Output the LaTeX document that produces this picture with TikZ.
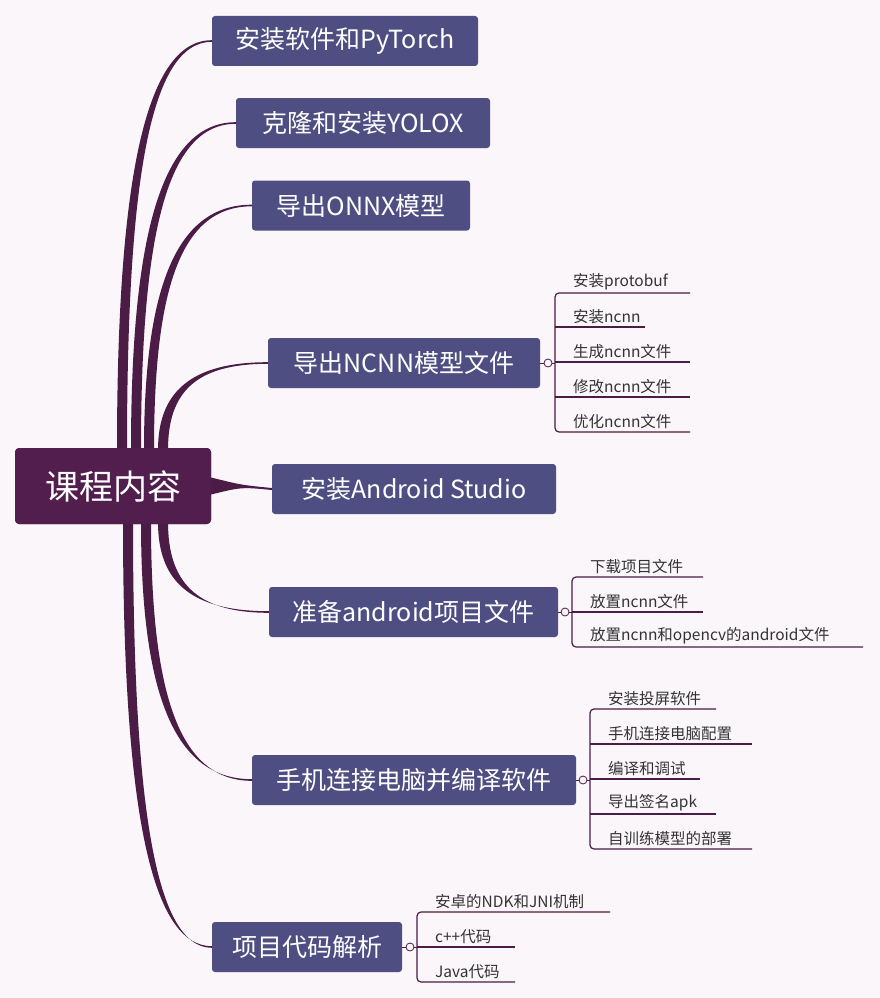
\documentclass[tikz,border=0pt]{standalone}
\usepackage{fontspec}
\setmainfont{Noto Sans CJK SC}
\usetikzlibrary{calc}
\definecolor{bg}{HTML}{FBF6FA}
\definecolor{rootc}{HTML}{521E4E}
\definecolor{boxc}{HTML}{4F4E82}
\definecolor{linec}{HTML}{4A1C46}
\definecolor{txt}{HTML}{333333}
\tikzset{
 rootbox/.style={fill=rootc,rounded corners=4pt,text=white,font=\fontsize{34}{40}\selectfont,minimum width=196pt,minimum height=76pt,inner sep=0pt},
 topic/.style={fill=boxc,rounded corners=3pt,text=white,font=\fontsize{25}{30}\selectfont,minimum height=50pt,inner sep=0pt},
 sub/.style={text=txt,font=\fontsize{15.5}{18}\selectfont,anchor=south west,inner sep=0pt},
 subline/.style={draw=linec,line width=1.2pt,rounded corners=4pt},
 brc/.style={fill=linec},
 knob/.style={circle,draw=linec,fill=bg,line width=0.8pt,inner sep=0pt,minimum size=8pt}
}
\newcommand\tbranch[3]{% start coordinate, box, half width
 \fill[brc] let \p1=(#1), \p2=(#2.west) in
  ({\x1-#3pt},\y1) .. controls ({\x1-#3pt},{\y1+0.65*(\y2-\y1)}) and ({\x1+0.25*(\x2-\x1)},{\y2+0.8pt}) .. ({\x2},{\y2+0.8pt})
  -- ({\x2},{\y2-0.8pt}) .. controls ({\x1+0.25*(\x2-\x1)+#3pt},{\y2-0.8pt}) and ({\x1+#3pt},{\y1+0.65*(\y2-\y1)}) .. ({\x1+#3pt},\y1) -- cycle;}
\begin{document}
\begin{tikzpicture}[x=1pt,y=-1pt]
\fill[bg] (0,0) rectangle (880,998);
\useasboundingbox (0,0) rectangle (880,998);
% root and topics
\node[rootbox] (root) at (113,486) {课程内容};
\node[topic,minimum width=266pt] (b1) at (345,41) {安装软件和PyTorch};
\node[topic,minimum width=254pt] (b2) at (363,123) {克隆和安装YOLOX};
\node[topic,minimum width=218pt] (b3) at (361,205.5) {导出ONNX模型};
\node[topic,minimum width=272pt] (b4) at (404,363) {导出NCNN模型文件};
\node[topic,minimum width=284pt] (b5) at (414,489) {安装Android Studio};
\node[topic,minimum width=289pt] (b6) at (413.5,612) {准备android项目文件};
\node[topic,minimum width=324pt] (b7) at (414,780) {手机连接电脑并编译软件};
\node[topic,minimum width=190pt] (b8) at (307,947) {项目代码解析};
% branch start points
\coordinate (s1) at (122,450);
\coordinate (s2) at (136,450);
\coordinate (s3) at (149,450);
\coordinate (s4) at (163,450);
\coordinate (s6) at (163,522);
\coordinate (s7) at (146,522);
\coordinate (s8) at (128,522);
\begin{scope}[on background layer/.style={}]
\tbranch{s1}{b1}{5}
\tbranch{s2}{b2}{5}
\tbranch{s3}{b3}{5}
\tbranch{s4}{b4}{5}
\tbranch{s6}{b6}{5}
\tbranch{s7}{b7}{5}
\tbranch{s8}{b8}{5}
\fill[brc] ($(root.east)+(-2,-9)$) .. controls ($(root.east)+(30,-1)$) .. ($(b5.west)+(0,-1)$) -- ($(b5.west)+(0,1)$) .. controls ($(root.east)+(30,1)$) .. ($(root.east)+(-2,9)$) -- cycle;
\end{scope}
\node[rootbox] at (root) {课程内容};
% NCNN subs
\node[knob] (k4) at (548,363) {};
\draw[linec,line width=0.8pt] (b4.east) -- (k4.west);
\draw[subline] (690,293) -- (555,293) -- (555,432) -- (690,432);
\draw[linec,line width=1.2pt] (555,327) -- (645,327) (555,362) -- (690,362) (555,397) -- (690,397);
\draw[linec,line width=0.8pt] (k4.east) -- (555,363);
\node[sub] (n1) at (573,290) {安装protobuf};
\node[sub] (n2) at (573,324) {安装ncnn};
\node[sub] (n3) at (573,359) {生成ncnn文件};
\node[sub] (n4) at (573,394) {修改ncnn文件};
\node[sub] (n5) at (573,429) {优化ncnn文件};
% android subs
\node[knob] (k6) at (565,612) {};
\draw[linec,line width=0.8pt] (b6.east) -- (k6.west) (k6.east) -- (572,612);
\draw[subline] (703,577) -- (572,577) -- (572,647) -- (863,647);
\draw[linec,line width=1.2pt] (572,612) -- (703,612);
\node[sub] (a1) at (590,574) {下载项目文件};
\node[sub] (a2) at (590,609) {放置ncnn文件};
\node[sub] (a3) at (590,644) {放置ncnn和opencv的android文件};
% phone subs
\node[knob] (k7) at (583,780) {};
\draw[linec,line width=0.8pt] (b7.east) -- (k7.west) (k7.east) -- (590,780);
\draw[subline] (716,709) -- (590,709) -- (590,849) -- (752,849);
\draw[linec,line width=1.2pt] (590,744) -- (752,744) (590,779) -- (700,779) (590,814) -- (716,814);
\node[sub] (p1) at (608,706) {安装投屏软件};
\node[sub] (p2) at (608,741) {手机连接电脑配置};
\node[sub] (p3) at (608,776) {编译和调试};
\node[sub] (p4) at (608,811) {导出签名apk};
\node[sub] (p5) at (608,846) {自训练模型的部署};
% code subs
\node[knob] (k8) at (410,947) {};
\draw[linec,line width=0.8pt] (b8.east) -- (k8.west) (k8.east) -- (417,947);
\draw[subline] (610,912) -- (417,912) -- (417,982) -- (515,982);
\draw[linec,line width=1.2pt] (417,947) -- (515,947);
\node[sub] (c1) at (435,909) {安卓的NDK和JNI机制};
\node[sub] (c2) at (435,944) {c++代码};
\node[sub] (c3) at (435,979) {Java代码};
\end{tikzpicture}
\end{document}
